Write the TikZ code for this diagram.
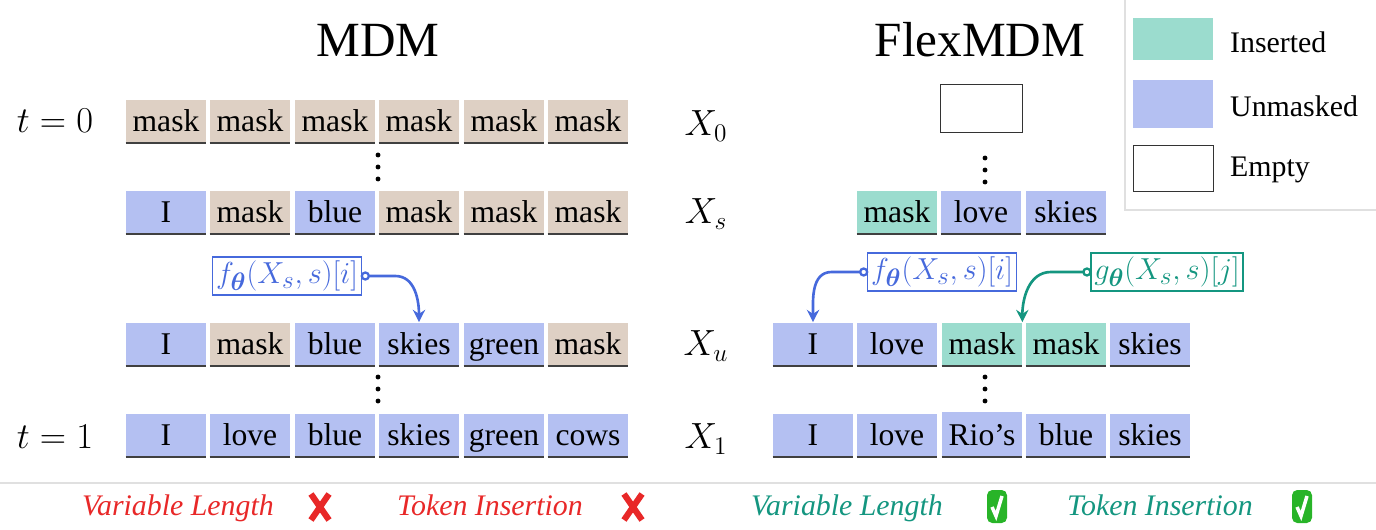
\documentclass[tikz,border=0pt]{standalone}
\usepackage{amsmath}
\usepackage{fontspec}
\setmainfont{Liberation Serif}
\usetikzlibrary{arrows.meta}
\definecolor{maskc}{RGB}{222,208,196}
\definecolor{unm}{RGB}{180,192,242}
\definecolor{ins}{RGB}{155,220,206}
\definecolor{fblue}{RGB}{70,105,220}
\definecolor{gteal}{RGB}{20,150,128}
\definecolor{xred}{RGB}{232,40,40}
\definecolor{ckg}{RGB}{40,180,40}
\tikzset{
 tok/.style={minimum width=1.6cm,minimum height=0.86cm,inner sep=0pt,font=\fontsize{18}{20}\selectfont,text height=0.44cm,text depth=0.02cm},
 mk/.style={tok,fill=maskc}, um/.style={tok,fill=unm}, inst/.style={tok,fill=ins},
 ul/.style={line width=1.1pt,black!75},
 lab/.style={font=\fontsize{20}{22}\selectfont},
 fbox/.style={draw=fblue,text=fblue,line width=1pt,inner sep=2pt,font=\fontsize{19}{22}\selectfont},
 arr/.style={line width=1.5pt,-{Stealth[length=7pt,width=7pt]}},
 bt/.style={font=\fontsize{17}{19}\selectfont\itshape,anchor=base},
 lg/.style={anchor=west,font=\fontsize{17}{19}\selectfont},
}
\newcommand{\ulz}[1]{\draw[ul] (#1.south west)--(#1.south east);}
\newcommand{\vdot}[2]{\fill (#1,#2) circle (1.4pt); \fill (#1,#2+12) circle (1.4pt); \fill (#1,#2+24) circle (1.4pt);}
\begin{document}
\begin{tikzpicture}[x=0.02cm,y=-0.02cm]
\useasboundingbox (0,0) rectangle (1376,530);
% titles
\node[font=\fontsize{28}{30}\selectfont] (t1) at (378,40) {MDM};
\node[font=\fontsize{28}{30}\selectfont] (t2) at (980,40) {FlexMDM};
% legend
\draw[black!12,line width=1pt] (1125,0)--(1125,210)--(1376,210);
\node[tok,fill=ins,minimum height=0.86cm] (L1) at (1173,39) {};
\node[tok,fill=unm,minimum height=0.96cm] (L2) at (1173,104) {};
\node[tok,draw=black!80,minimum height=0.92cm] (L3) at (1173,168) {};
\node[lg] (l1) at (1224,42) {Inserted};
\node[lg] (l2) at (1224,106) {Unmasked};
\node[lg] (l3) at (1224,170) {Empty};
% row labels
\node[lab] (ta) at (55,121) {$t=0$};
\node[lab] (tb) at (55,437) {$t=1$};
\node[lab] (x0) at (706,126) {$X_0$};
\node[lab] (xs) at (706,214) {$X_s$};
\node[lab] (xu) at (706,346) {$X_u$};
\node[lab] (x1) at (706,439) {$X_1$};
% MDM rows
\foreach \i/\x in {1/166,2/250,3/335,4/419,5/504,6/588} {\node[mk] (a\i) at (\x,121) {mask}; \ulz{a\i}}
\node[um] (b1) at (166,212) {I}; \node[mk] (b2) at (250,212) {mask}; \node[um] (b3) at (335,212) {blue};
\node[mk] (b4) at (419,212) {mask}; \node[mk] (b5) at (504,212) {mask}; \node[mk] (b6) at (588,212) {mask};
\node[um] (c1) at (166,344) {I}; \node[mk] (c2) at (250,344) {mask}; \node[um] (c3) at (335,344) {blue};
\node[um] (c4) at (419,344) {skies}; \node[um] (c5) at (504,344) {green}; \node[mk] (c6) at (588,344) {mask};
\node[um] (d1) at (166,435) {I}; \node[um] (d2) at (250,435) {love}; \node[um] (d3) at (335,435) {blue};
\node[um] (d4) at (419,435) {skies}; \node[um] (d5) at (504,435) {green}; \node[um] (d6) at (588,435) {cows};
\foreach \r in {b,c,d} {\foreach \i in {1,...,6} {\ulz{\r\i}}}
\vdot{378}{155} \vdot{378}{377}
% Flex rows
\node[tok,draw=black!80,minimum width=1.64cm,minimum height=0.96cm] (e0) at (981,108) {};
\vdot{985}{158}
\node[inst] (f1) at (897,212) {mask}; \node[um] (f2) at (981,212) {love}; \node[um] (f3) at (1066,212) {skies};
\node[um] (g1) at (813,344) {I}; \node[um] (g2) at (897,344) {love}; \node[inst] (g3) at (982,344) {mask};
\node[inst] (g4) at (1066,344) {mask}; \node[um] (g5) at (1150,344) {skies};
\node[um] (h1) at (813,435) {I}; \node[um] (h2) at (897,435) {love}; \node[um,minimum height=0.9cm,text height=0.5cm] (h3) at (982,434) {Rio's};
\node[um] (h4) at (1066,435) {blue}; \node[um] (h5) at (1150,435) {skies};
\foreach \i in {1,2,3} {\ulz{f\i}}
\foreach \r in {g,h} {\foreach \i in {1,...,5} {\ulz{\r\i}}}
\vdot{985}{377}
% function boxes
\node[fbox] (F1) at (287,276) {$f_{\boldsymbol\theta}(X_s,s)[i]$};
\draw[fblue,arr] (F1.east) ++(3,0) coordinate (p1) -- ++(30,0) to[out=0,in=90] (c4.north);
\draw[fblue,line width=1.3pt,fill=white] (p1) circle (3.5);
\node[fbox] (F2) at (942,272) {$f_{\boldsymbol\theta}(X_s,s)[i]$};
\draw[fblue,arr] (F2.west) ++(-3,0) coordinate (p2) -- ++(-32,0) to[out=180,in=90] (g1.north);
\draw[fblue,line width=1.3pt,fill=white] (p2) circle (3.5);
\node[fbox,draw=gteal,text=gteal] (G) at (1167,272) {$g_{\boldsymbol\theta}(X_s,s)[j]$};
\draw[gteal,arr] (G.west) ++(-3,0) coordinate (p3) -- ++(-36,0) to[out=180,in=90] (g3.north east);
\draw[gteal,line width=1.3pt,fill=white] (p3) circle (3.5);
% bottom
\draw[black!12,line width=1pt] (0,483)--(1376,483);
\node[bt,text=xred] (v1) at (178,515) {Variable Length};
\node[bt,text=xred] (v2) at (490,515) {Token Insertion};
\node[bt,text=gteal] (v3) at (847,515) {Variable Length};
\node[bt,text=gteal] (v4) at (1160,515) {Token Insertion};
\foreach \cx in {320,633} {\draw[xred,line width=3.5pt] (\cx-9,494)--(\cx+9,520) (\cx+9,494)--(\cx-9,520);}
\foreach \cx in {997,1302} {\fill[ckg,rounded corners=3pt] (\cx-10,490) rectangle (\cx+10,523);
 \draw[white,line width=2pt] (\cx-5,507)--(\cx-1,516)--(\cx+5,496);}
\end{tikzpicture}
\end{document}
